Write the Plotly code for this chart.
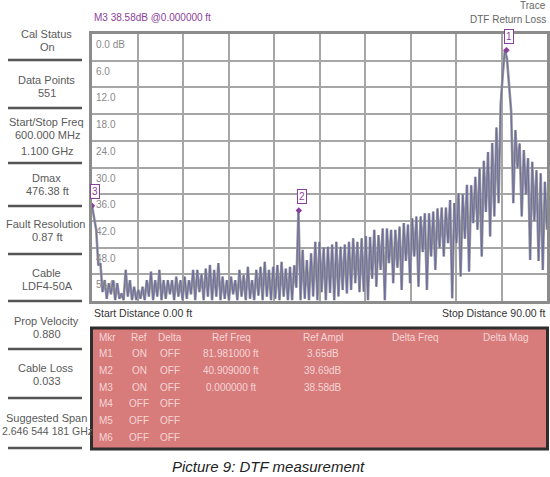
import numpy as np
import plotly.graph_objects as go

W, H = 550, 477

# ---------------- data ----------------
# DTF return loss trace (dB), alternating local peaks / troughs, evenly spaced 0..90 ft
return_loss_db = [
    38.58, 41.0, 44.0, 52.0, 51.5, 58.0, 55.3, 59.5, 56.0, 58.5,
    55.3, 59.8, 56.0, 59.5, 58.3, 59.8, 53.0, 59.0, 55.3, 59.8,
    56.8, 59.8, 57.5, 59.5, 56.8, 59.8, 55.3, 59.0, 53.4, 59.8,
    55.3, 59.0, 53.0, 59.8, 55.3, 59.5, 55.3, 58.5, 55.3, 59.8,
    54.5, 59.0, 55.3, 59.8, 54.5, 59.5, 55.3, 58.5, 53.0, 59.8,
    53.0, 58.0, 54.0, 59.8, 52.7, 59.0, 51.9, 59.8, 53.0, 59.0,
    51.5, 59.8, 54.5, 59.5, 55.3, 59.8, 54.5, 58.5, 55.3, 59.8,
    53.0, 59.0, 54.2, 59.8, 52.3, 59.5, 55.3, 59.8, 53.0, 58.8,
    52.3, 59.8, 51.2, 59.0, 53.0, 59.8, 52.3, 59.5, 51.9, 59.8,
    51.2, 59.0, 52.7, 59.8, 52.3, 59.8, 52.0, 57.0, 39.69, 59.8,
    48.5, 59.5, 50.8, 59.8, 49.3, 59.0, 46.7, 59.8, 46.7, 58.0,
    48.0, 59.8, 47.8, 58.2, 47.3, 59.8, 46.7, 59.0, 47.8, 57.5,
    47.3, 58.3, 46.7, 57.5, 45.9, 56.0, 46.7, 58.0, 45.9, 57.9,
    45.4, 59.8, 45.6, 55.0, 44.0, 56.8, 45.2, 53.0, 43.7, 59.8,
    43.7, 51.5, 44.0, 56.0, 44.0, 52.5, 43.3, 57.5, 42.5, 51.0,
    42.8, 56.0, 41.4, 50.0, 41.0, 56.8, 41.0, 49.0, 40.3, 57.5,
    40.3, 50.0, 39.9, 53.0, 39.2, 48.0, 39.0, 50.0, 39.0, 47.0,
    37.3, 59.4, 38.0, 47.0, 35.8, 54.5, 36.0, 46.0, 33.9, 53.4,
    34.0, 42.5, 32.1, 44.0, 30.2, 50.0, 28.5, 40.0, 26.5, 45.5,
    24.5, 41.0, 21.0, 38.0, 16.0, 9.0, 3.65, 5.5, 11.0, 17.5,
    38.0, 21.6, 30.0, 24.6, 41.0, 26.1, 36.0, 27.9, 50.8, 28.7,
    42.0, 30.6, 51.0, 31.3, 53.0, 33.2, 44.0,
]
start_ft, stop_ft = 0.0, 90.0

marker_names = ["1", "2", "3"]
marker_ft = [81.981, 40.909, 0.0]
marker_db = [3.65, 39.69, 38.58]

y_tick_vals = [0, 6, 12, 18, 24, 30, 36, 42, 48, 54]
y_tick_text = ["0.0 dB", "6.0", "12.0", "18.0", "24.0", "30.0", "36.0", "42.0", "48.0", "54.0"]

panel_titles = ["Cal Status", "Data Points", "Start/Stop Freq", "Dmax", "Fault Resolution",
                "Cable", "Prop Velocity", "Cable Loss", "Suggested Span"]
panel_values = [["On"], ["551"], ["600.000 MHz", "1.100 GHz"], ["476.38 ft"], ["0.87 ft"],
                ["LDF4-50A"], ["0.880"], ["0.033"], ["2.646 544 181 GHz"]]

table_header = ["Mkr", "Ref", "Delta", "Ref Freq", "Ref Ampl", "Delta Freq", "Delta Mag"]
table_mkr = ["M1", "M2", "M3", "M4", "M5", "M6"]
table_ref = ["ON", "ON", "ON", "OFF", "OFF", "OFF"]
table_delta = ["OFF", "OFF", "OFF", "OFF", "OFF", "OFF"]
table_ref_freq = ["81.981000 ft", "40.909000 ft", "0.000000 ft", "", "", ""]
table_ref_ampl = ["3.65dB", "39.69dB", "38.58dB", "", "", ""]

# ---------------- layout helpers ----------------
def px(x):
    return x / W

def py(y):
    return 1 - y / H

PL, PR, PT, PB = 92, 547, 34, 301
FONT = "Liberation Sans, Arial, sans-serif"
PURPLE = "#8a3f9a"

distance_ft = np.linspace(start_ft, stop_ft, len(return_loss_db))

fig = go.Figure()
fig.add_trace(go.Scatter(x=distance_ft, y=return_loss_db, mode="lines",
                         line=dict(color="#9a9a9a", width=2.6), hoverinfo="skip"))
fig.add_trace(go.Scatter(x=distance_ft, y=return_loss_db, mode="lines",
                         line=dict(color="#2a2ab0", width=0.9), opacity=0.45, hoverinfo="skip"))
fig.add_trace(go.Scatter(x=marker_ft, y=marker_db, mode="markers",
                         marker=dict(symbol="diamond", size=5, color=PURPLE), cliponaxis=False,
                         hoverinfo="skip"))

ann = []
shapes = []

# marker labels
for n, xf, yd in zip(marker_names, marker_ft, marker_db):
    ann.append(dict(x=xf, y=yd, xref="x", yref="y", text=n, showarrow=False,
                    xshift=3, yshift=14, font=dict(family=FONT, size=10, color=PURPLE),
                    bordercolor=PURPLE, borderwidth=1, borderpad=1, bgcolor="white"))

# y labels inside the grid cells
for v, t in zip(y_tick_vals, y_tick_text):
    ann.append(dict(x=start_ft, y=v, xref="x", yref="y", text=t, showarrow=False,
                    xanchor="left", yanchor="top", xshift=2, yshift=-3,
                    font=dict(family=FONT, size=10, color="#8a8a8a")))

# header texts
ann.append(dict(x=px(PL), y=py(18), xref="paper", yref="paper", xanchor="left", yanchor="middle",
                text="M3 38.58dB @0.000000 ft", showarrow=False,
                font=dict(family=FONT, size=10, color=PURPLE)))
ann.append(dict(x=px(548), y=py(6), xref="paper", yref="paper", xanchor="right", yanchor="middle",
                text="Trace", showarrow=False, font=dict(family=FONT, size=10, color="#666666")))
ann.append(dict(x=px(548), y=py(20), xref="paper", yref="paper", xanchor="right", yanchor="middle",
                text="DTF Return Loss", showarrow=False, font=dict(family=FONT, size=10, color="#666666")))

# start / stop distance
ann.append(dict(x=px(PL), y=py(313), xref="paper", yref="paper", xanchor="left", yanchor="middle",
                text="Start Distance %.2f ft" % start_ft, showarrow=False,
                font=dict(family=FONT, size=10.5, color="#333333")))
ann.append(dict(x=px(PR), y=py(313), xref="paper", yref="paper", xanchor="right", yanchor="middle",
                text="Stop Distance %.2f ft" % stop_ft, showarrow=False,
                font=dict(family=FONT, size=10.5, color="#333333")))

# left panel
title_y = [34, 80, 122, 178, 224, 273, 321, 368, 418]
sep_y = [60, 108, 163, 206, 254, 301, 349, 398, 448]
for t, vals, ty in zip(panel_titles, panel_values, title_y):
    ann.append(dict(x=px(46), y=py(ty), xref="paper", yref="paper", xanchor="center", yanchor="middle",
                    text=t, showarrow=False, font=dict(family=FONT, size=11, color="#5a5a5a")))
    for j, v in enumerate(vals):
        ann.append(dict(x=px(47), y=py(ty + 13 + 16 * j), xref="paper", yref="paper", xanchor="center",
                        yanchor="middle", text=v, showarrow=False,
                        font=dict(family=FONT, size=11 if len(v) < 14 else 10.5, color="#5a5a5a")))
for sy in sep_y:
    shapes.append(dict(type="line", xref="paper", yref="paper", x0=px(8), x1=px(82), y0=py(sy), y1=py(sy),
                       line=dict(color="#555555", width=2.5)))

# marker table
shapes.append(dict(type="rect", xref="paper", yref="paper", x0=px(91.5), x1=px(547.5), y0=py(328), y1=py(449),
                   fillcolor="#d77b7b", line=dict(color="#2e2e2e", width=3), layer="below"))
TC = "#f6d6d6"
col_x = [97, 139, 170, 231, 323, 415, 506]
col_anchor = ["left", "center", "center", "center", "center", "center", "center"]
row_y = [337, 353, 370, 387, 403, 420, 437]
for cx, ca, h in zip(col_x, col_anchor, table_header):
    ann.append(dict(x=px(cx), y=py(row_y[0]), xref="paper", yref="paper", xanchor=ca, yanchor="middle",
                    text=h, showarrow=False, font=dict(family=FONT, size=10, color=TC)))
for i in range(len(table_mkr)):
    rowvals = [table_mkr[i], table_ref[i], table_delta[i], table_ref_freq[i], table_ref_ampl[i]]
    for cx, ca, v in zip(col_x, col_anchor, rowvals):
        if v:
            ann.append(dict(x=px(cx), y=py(row_y[i + 1]), xref="paper", yref="paper", xanchor=ca,
                            yanchor="middle", text=v, showarrow=False,
                            font=dict(family=FONT, size=10, color=TC)))

# caption
ann.append(dict(x=px(268), y=py(466), xref="paper", yref="paper", xanchor="center", yanchor="middle",
                text="<i>Picture 9: DTF measurement</i>", showarrow=False,
                font=dict(family=FONT, size=15, color="#222222")))

fig.update_layout(
    width=W, height=H, margin=dict(l=0, r=0, t=0, b=0),
    paper_bgcolor="white", plot_bgcolor="white", showlegend=False,
    xaxis=dict(domain=[px(PL), px(PR)], range=[start_ft, stop_ft], dtick=9, tick0=0,
               showticklabels=False, ticks="", showgrid=True, gridcolor="#a6a6a6", gridwidth=2,
               zeroline=False, showline=True, mirror=True, linecolor="#8c8c8c", linewidth=3,
               fixedrange=True),
    yaxis=dict(domain=[py(PB), py(PT)], range=[60, 0], dtick=6, tick0=0,
               showticklabels=False, ticks="", showgrid=True, gridcolor="#a6a6a6", gridwidth=2,
               zeroline=False, showline=True, mirror=True, linecolor="#8c8c8c", linewidth=3,
               fixedrange=True),
    annotations=ann, shapes=shapes,
)

fig.write_html("out.html")
